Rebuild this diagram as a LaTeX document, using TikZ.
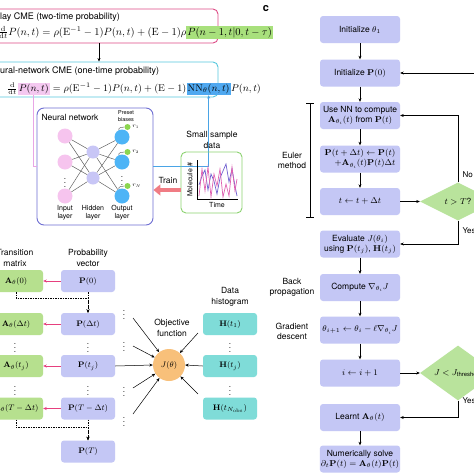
\RequirePackage{fix-cm}
\documentclass[tikz,border=0pt]{standalone}
\usepackage[no-math]{fontspec}
\setmainfont{TeX Gyre Heros}
\usepackage{amsmath}
\usetikzlibrary{shapes.geometric,arrows.meta,calc}
\definecolor{lav}{HTML}{C4C7F5}
\definecolor{grn}{HTML}{B6E08E}
\definecolor{tealc}{HTML}{7FDCD8}
\definecolor{orng}{HTML}{F8C07A}
\definecolor{magb}{HTML}{DD4C86}
\definecolor{cyb}{HTML}{55C8DD}
\definecolor{nnb}{HTML}{6E6ED2}
\definecolor{hlg}{HTML}{A8E07C}
\definecolor{hlp}{HTML}{F4C8F0}
\definecolor{hlb}{HTML}{4FA8F0}
\definecolor{inpc}{HTML}{F6C4EE}
\definecolor{hidc}{HTML}{C8C6F6}
\definecolor{outc}{HTML}{4DB4F6}
\definecolor{biasc}{HTML}{8CD650}
\definecolor{trainc}{HTML}{F07C84}
\definecolor{datab}{HTML}{8CD270}
\definecolor{redar}{HTML}{E6407E}
\definecolor{pinkln}{HTML}{E8A6E6}
\definecolor{blueln}{HTML}{4AA4E6}
\definecolor{dgrn}{HTML}{B9E39C}
\definecolor{plotp}{HTML}{E060B0}
\definecolor{plotv}{HTML}{7060D0}
\newcommand{\myfT}{\fontsize{8.5}{10.5}\selectfont}
\newcommand{\myfH}{\fontsize{9}{10.5}\selectfont}
\newcommand{\myfE}{\fontsize{10.5}{12}\selectfont}
\newcommand{\myfEb}{\fontsize{9.8}{11}\selectfont}
\newcommand{\myfB}{\fontsize{8}{9.5}\selectfont}
\newcommand{\myfC}{\fontsize{8.5}{10}\selectfont}
\newcommand{\myfS}{\fontsize{7}{8.5}\selectfont}
\newcommand{\myfX}{\fontsize{5.5}{6.5}\selectfont}
\setlength{\fboxsep}{1pt}
\tikzset{
  arr/.style={-{Stealth[length=3.5pt,width=3pt]}, line width=0.5pt},
  redarr/.style={-{Stealth[length=3.5pt,width=3pt]}, line width=0.6pt, draw=redar},
  dasharr/.style={-{Stealth[length=3.5pt,width=3pt]}, line width=0.5pt, dash pattern=on 1.5pt off 1pt},
  bbox/.style={rounded corners=3pt, minimum height=22pt, font=\myfB, inner sep=1pt},
  pbox/.style={bbox, fill=lav, minimum width=54pt},
  abox/.style={bbox, fill=grn, minimum width=54pt},
  hbox/.style={bbox, fill=tealc, minimum width=54pt},
  cbox/.style={fill=lav, rounded corners=3pt, minimum width=80pt, minimum height=27pt, align=center, font=\myfC, inner sep=1pt},
  dia/.style={diamond, fill=dgrn, minimum width=76pt, minimum height=38pt, inner sep=0pt, font=\myfC},
  neur/.style={circle, minimum size=15pt, inner sep=0pt},
  bias/.style={circle, fill=biasc, minimum size=6pt, inner sep=0pt},
  nnedge/.style={line width=0.45pt, draw=black!65},
  hdr/.style={font=\myfT, align=center},
  eqn/.style={font=\myfEb, inner sep=0pt, anchor=base west},
}
\begin{document}
\begin{tikzpicture}[x=1pt,y=-1pt]
\useasboundingbox (0,0) rectangle (474,474);
\clip (0,0) rectangle (474,474);
\fill[white] (0,0) rectangle (474,474);

% ---------------- panel a ----------------
\node[draw=magb, line width=0.9pt, rounded corners=5pt, minimum width=238pt, minimum height=34pt] (delay) at (99,26) {};
\node[font=\myfH, anchor=west, inner sep=0pt] (delayt) at (-11.5,17) {Delay CME (two-time probability)};
\node[font=\myfE, anchor=west, inner sep=0pt] (delayeq) at (-2,32.5) {$\frac{\mathrm{d}}{\mathrm{d}t}P(n,t)=\rho(\mathrm{E}^{-1}-1)P(n,t)+(\mathrm{E}-1)\rho\colorbox{hlg}{$P(n-1,t|0,t-\tau)$}$};

\node[draw=cyb, line width=0.9pt, rounded corners=5pt, minimum width=238pt, minimum height=35pt] (nncme) at (99,79.5) {};
\node[font=\myfH, anchor=west, inner sep=0pt] (nncmet) at (-11.5,71) {Neural-network CME (one-time probability)};
\node[eqn] (e2a) at (7,91.5) {$\frac{\mathrm{d}}{\mathrm{d}t}$};
\node[eqn, inner sep=1pt, fill=hlp] (hlP) at (e2a.base east) {$P(n,t)$};
\node[eqn] (e2b) at (hlP.base east) {${}=\rho(\mathrm{E}^{-1}-1)P(n,t)+(\mathrm{E}-1)$};
\node[eqn, inner sep=1pt, fill=hlb] (hlNN) at (e2b.base east) {$\mathrm{NN}_\theta(n,t)$};
\node[eqn] (e2c) at (hlNN.base east) {$P(n,t)$};

\draw[arr] (delay.south) -- (nncme.north);

% neural network box
\node[draw=nnb, line width=0.9pt, rounded corners=7pt, minimum width=116pt, minimum height=117pt] (nnbox) at (95,166.5) {};
\node[font=\myfT] (nnt) at (70,117) {Neural network};
\node[font=\myfX, align=center] (preset) at (126,116) {Preset\\biases};

\draw[pinkln, line width=0.8pt] (hlP.south) |- (nnbox.west);
\draw[blueln, line width=0.8pt, -{Stealth[length=3.5pt,width=3pt]}] (nnbox.east) -| (hlNN.south);

\node[neur, fill=inpc] (i1) at (65,136) {};
\node[neur, fill=inpc] (i2) at (65,162) {};
\node[neur, fill=inpc] (i3) at (65,196) {};
\node[neur, fill=hidc, minimum size=13pt] (hd1) at (93,152) {};
\node[neur, fill=hidc, minimum size=13pt] (hd2) at (93,178) {};
\node[neur, fill=outc] (o1) at (122,137) {};
\node[neur, fill=outc] (o2) at (122,162) {};
\node[neur, fill=outc] (o3) at (122,196) {};
\foreach \a in {i1,i2,i3} \foreach \b in {hd1,hd2} \draw[nnedge] (\a) -- (\b);
\foreach \a in {hd1,hd2} \foreach \b in {o1,o2,o3} \draw[nnedge] (\a) -- (\b);
\node[font=\myfB] (vd1) at (65,180) {$\vdots$};
\node[font=\myfB] (vd2) at (122,178) {$\vdots$};
\node[bias] (b1) at (127.5,127) {};
\node[bias] (b2) at (127.5,152) {};
\node[bias] (b3) at (127.5,186) {};
\draw[nnedge] (o1.115) to[out=105,in=180] (b1.west);
\draw[nnedge] (o2.115) to[out=105,in=180] (b2.west);
\draw[nnedge] (o3.115) to[out=105,in=180] (b3.west);
\node[font=\myfX, anchor=west, inner sep=0pt] (r1) at (132,127) {$r_1$};
\node[font=\myfX, anchor=west, inner sep=0pt] (r2) at (132,152) {$r_2$};
\node[font=\myfX, anchor=west, inner sep=0pt] (r3) at (132,186) {$r_N$};
\node[font=\myfS, align=center] (li) at (65,212.5) {Input\\layer};
\node[font=\myfS, align=center] (lh) at (93,212.5) {Hidden\\layer};
\node[font=\myfS, align=center] (lo) at (122,212.5) {Output\\layer};

% small sample data
\node[hdr] (ssd) at (212,140) {Small sample\\data};
\node[draw=datab, line width=0.9pt, rounded corners=5pt, minimum width=61pt, minimum height=61pt] (datab) at (211.5,182.5) {};
\coordinate (trainy) at (0,190);
\draw[trainc, line width=4.5pt, -{Triangle[length=7pt,width=11pt]}] (datab.west |- trainy) -- (nnbox.east |- trainy);
\node[font=\myfT] (train) at (168,180) {Train};
\draw[line width=0.5pt] (197,160) -- (197,199) -- (238,199);
\node[font=\myfS, rotate=90] (mol) at (190,180) {Molecule \#};
\node[font=\myfS] (time) at (217,205) {Time};
\draw[plotv, line width=0.7pt] (199,185) -- (202,176) -- (205,170) -- (208,190) -- (211,174) -- (214,181) -- (217,194) -- (220,178) -- (223,171) -- (226,164) -- (229,182) -- (232,169) -- (235,186) -- (237,196);
\draw[plotp, line width=0.7pt] (199,196) -- (202,169) -- (205,191) -- (208,167) -- (211,197) -- (214,174) -- (217,186) -- (220,169) -- (223,197) -- (226,184) -- (229,196) -- (232,167) -- (235,191) -- (237,179);

% ---------------- panel b ----------------
\node[hdr] (thT) at (15,258) {Transition\\matrix};
\node[hdr] (thP) at (88,258) {Probability\\vector};
\node[hdr] (thH) at (230,297) {Data\\histogram};
\node[hdr] (obj) at (172,328) {Objective\\function};

\node[abox] (a0) at (16,281) {$\mathbf{A}_\theta(0)$};
\node[pbox] (p0) at (88,281) {$\mathbf{P}(0)$};
\node[abox] (a1) at (16,324) {$\mathbf{A}_\theta(\Delta t)$};
\node[pbox] (p1) at (88,324) {$\mathbf{P}(\Delta t)$};
\node[abox] (a2) at (16,366) {$\mathbf{A}_\theta(t_j)$};
\node[pbox] (p2) at (88,366) {$\mathbf{P}(t_j)$};
\node[abox] (a3) at (16,408.5) {$\mathbf{A}_\theta(T-\Delta t)$};
\node[pbox] (p3) at (88,408.5) {$\mathbf{P}(T-\Delta t)$};
\node[pbox] (p4) at (88,451.5) {$\mathbf{P}(T)$};
\node[hbox] (hh1) at (230,324) {$\mathbf{H}(t_1)$};
\node[hbox] (hh2) at (230,366) {$\mathbf{H}(t_j)$};
\node[hbox] (hh3) at (230,408.5) {$\mathbf{H}(t_{N_\mathrm{obs}})$};
\node[circle, fill=orng, minimum size=32pt, inner sep=0pt, font=\myfB] (J) at (169,365) {$J(\theta)$};

\draw[redarr] (p0.west) -- (a0.east);
\draw[redarr] (p1.west) -- (a1.east);
\draw[redarr] (p2.west) -- (a2.east);
\draw[redarr] (p3.west) -- (a3.east);
\draw[dasharr] (a0.south) -- ++(0,6) -| (p1.north);
\draw[dasharr] (p0.south) -- (p1.north);
\draw[dasharr] (a3.south) -- ++(0,8) -| (p4.north);
\draw[dasharr] (p3.south) -- (p4.north);

\foreach \x/\y/\n in {15/345/da1,15/388/da2,88/345/dp1,88/388/dp2,124/312/dj1,124/344/dj2,124/389/dj3,124/419/dj4,230/345/dh1,230/388/dh2}
  \node[font=\myfB] (\n) at (\x,\y) {$\vdots$};

\coordinate (l1) at (133,318);
\coordinate (l2) at (133,346);
\coordinate (l3) at (133,388);
\coordinate (l4) at (133,414);
\coordinate (rr1) at (198,333);
\coordinate (rr3) at (198,394);
\draw[arr] (l1) -- (J);
\draw[arr] (l2) -- (J);
\draw[arr] (p2.east) -- (J.west);
\draw[arr] (l3) -- (J);
\draw[arr] (l4) -- (J);
\draw[arr] (rr1) -- (J);
\draw[arr] (hh2.west) -- (J.east);
\draw[arr] (rr3) -- (J);

% ---------------- panel c ----------------
\node[font=\bfseries\fontsize{11}{12}\selectfont] (lc) at (266,9) {c};
\node[cbox] (c1) at (360,29.5) {Initialize $\theta_1$};
\node[cbox] (c2) at (360,73) {Initialize $\mathbf{P}(0)$};
\node[cbox] (c3) at (360,115.5) {Use NN to compute\\$\mathbf{A}_{\theta_i}(t)$ from $\mathbf{P}(t)$};
\node[cbox, align=right] (c4) at (360,159) {$\mathbf{P}(t+\Delta t)\leftarrow\mathbf{P}(t)$\\$+\mathbf{A}_{\theta_i}(t)\mathbf{P}(t)\Delta t$};
\node[cbox] (c5) at (360,201.5) {$t\leftarrow t+\Delta t$};
\node[dia] (d1) at (458,201.5) {$t>T$?};
\node[cbox] (c6) at (360,244) {Evaluate $J(\theta_i)$\\using $\mathbf{P}(t_j)$, $\mathbf{H}(t_j)$};
\node[cbox] (c7) at (360,287.5) {Compute $\nabla_{\theta_i}J$};
\node[cbox] (c8) at (360,330) {$\theta_{i+1}\leftarrow\theta_i-\ell\nabla_{\theta_i}J$};
\node[cbox] (c9) at (360,373) {$i\leftarrow i+1$};
\node[dia, minimum height=34pt] (d2) at (458,373) {$J<J_{\text{threshold}}$};
\node[cbox] (c10) at (360,417.5) {Learnt $\mathbf{A}_\theta(t)$};
\node[cbox] (c11) at (360,459) {Numerically solve\\$\partial_t\mathbf{P}(t)=\mathbf{A}_\theta(t)\mathbf{P}(t)$};

\draw[arr] (c1) -- (c2);
\draw[arr] (c2) -- (c3);
\draw[arr] (c3) -- (c4);
\draw[arr] (c4) -- (c5);
\draw[arr] (c6) -- (c7);
\draw[arr] (c7) -- (c8);
\draw[arr] (c8) -- (c9);
\draw[arr] (c10) -- (c11);
\draw[arr] (c5.east) -- (d1.west);
\draw[arr] (c9.east) -- (d2.west);
\draw[arr] (d1.north) |- (c3.east);
\draw[arr] (d1.south) |- (c6.east);
\draw[arr] (d2.south) |- (c10.east);
\draw[arr] (d2.east) -- ++(8,0) |- (c2.east);
\node[font=\myfB, anchor=west] (no1) at (459,175) {No};
\node[font=\myfB, anchor=west] (yes1) at (459,231) {Yes};
\node[font=\myfB, anchor=west] (yes2) at (459,401) {Yes};

\draw[line width=0.6pt] (306,103) -- (314,103) (310,103) -- (310,217) (306,217) -- (314,217);
\node[hdr] (euler) at (292,160.5) {Euler\\method};
\node[hdr] (backp) at (292,287.5) {Back\\propagation};
\node[hdr] (gradd) at (292,331.5) {Gradient\\descent};
\end{tikzpicture}
\end{document}
